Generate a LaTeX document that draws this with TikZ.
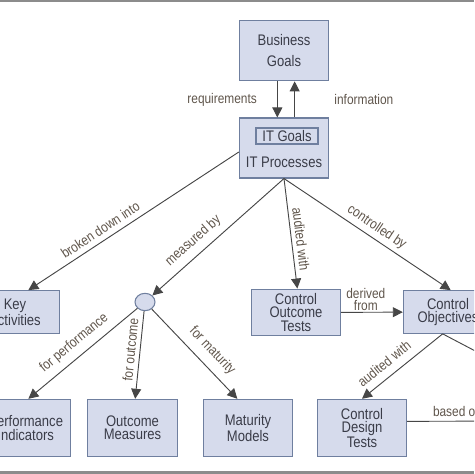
\documentclass[tikz,border=0pt]{standalone}
\usepackage{fontspec}
\usepackage{xcolor}
\usepackage{tikz}
\usetikzlibrary{arrows.meta, positioning, shapes.geometric}
\newfontfamily\diafont[FakeStretch=0.85]{Liberation Sans}
\newcommand{\cbfont}{\diafont\fontsize{11.5}{10}\selectfont}
\newcommand{\cblabfont}{\diafont\fontsize{10.5}{9}\selectfont}
\definecolor{boxfill}{RGB}{214,219,236}
\definecolor{boxline}{RGB}{111,127,159}
\definecolor{boxtext}{RGB}{58,60,72}
\definecolor{labtext}{RGB}{95,85,75}
\definecolor{linecol}{RGB}{70,70,70}
\definecolor{barcol}{RGB}{140,140,140}
\tikzset{
  box/.style={draw=boxline, fill=boxfill, line width=0.8pt, minimum width=67pt, minimum height=32pt, align=center, text=boxtext, font=\cbfont},
  lab/.style={text=labtext, font=\cblabfont, inner sep=3pt, align=center},
  conn/.style={draw=linecol, line width=0.7pt, -{Triangle[length=7.5pt,width=7.5pt]}}
}

\begin{document}
\begin{tikzpicture}[x=0.75pt,y=-0.75pt]
\useasboundingbox (0,0) rectangle (474,474);
\clip (0,0) rectangle (474,474);
\fill[barcol] (0,0) rectangle (474,2);
\fill[barcol] (0,471) rectangle (474,474);
\node[box, minimum height=45.5pt, font=\diafont\fontsize{11.5}{16}\selectfont] (biz) at (284,50.5) {Business\\Goals};
\node[box, minimum height=45pt] (itp) at (284,148) {};
\node[draw=boxline, line width=0.8pt, minimum width=46.5pt, minimum height=12pt, inner sep=0pt, text=boxtext, font=\cbfont] (itg) at (287,136) {IT Goals};
\node[text=boxtext, font=\cbfont] (itpt) at (284,162) {IT Processes};
\node[box] (keyact) at (15,312) {Key\\Activities};
\node[ellipse, draw=boxline, fill=boxfill, line width=0.8pt, minimum width=15pt, minimum height=13pt, inner sep=0pt] (hub) at (145,302) {};
\node[box] (cot) at (296,312.5) {Control\\Outcome\\Tests};
\node[box] (cobj) at (448,312) {Control\\Objectives};
\node[box, minimum height=43pt] (perf) at (25.7,428) {Performance\\Indicators};
\node[box, minimum height=43pt] (outm) at (132.5,428) {Outcome\\Measures};
\node[box, minimum height=43pt] (matm) at (248,428) {Maturity\\Models};
\node[box, minimum height=43pt] (cdt) at (362,428) {Control\\Design\\Tests};
\coordinate (cprac) at (540,385);
\coordinate (based) at (540,421);
\draw[conn] ([xshift=-5pt]biz.south) -- ([xshift=-5pt]itp.north) node[lab, midway, left=12pt] {requirements};
\draw[conn] ([xshift=8pt]itp.north) -- ([xshift=8pt]biz.south) node[lab, midway, right=26.5pt] {information};
\draw[conn] ([yshift=-3pt]itp.west) -- ([xshift=10pt]keyact.north) node[lab, sloped, above=1pt, pos=.63] {broken down into};
\draw[conn] (itp.south) -- (hub) node[lab, sloped, above=2pt, pos=.62] {measured by};
\draw[conn] (itp.south) -- ([xshift=1pt]cot.north) node[lab, sloped, above, pos=.56] {audited with};
\draw[conn] (itp.south) -- ([xshift=2pt]cobj.north) node[lab, sloped, above, pos=.52] {controlled by};
\draw[conn] (cot) -- (cobj) node[lab, above, pos=.4, inner sep=1pt] {derived\\from};
\draw[conn] (hub) -- ([xshift=2pt]perf.north) node[lab, sloped, above=2pt, pos=.5] {for performance};
\draw[conn] (hub) -- ([xshift=2pt]outm.north) node[lab, sloped, above, pos=.45] {for outcome};
\draw[conn] (hub) -- ([xshift=-8pt]matm.north) node[lab, sloped, above=3pt, pos=.58] {for maturity};
\draw[conn] ([xshift=-4pt]cobj.south) -- (cdt.north) node[lab, sloped, above=3pt, pos=.62] {audited with};
\draw[conn] ([xshift=-4pt]cobj.south) -- (cprac) node[lab, sloped, above, pos=.25, anchor=south west] {implemented with};
\draw[conn] ([yshift=5pt]cdt.east) -- (based) node[lab, pos=0, anchor=south west, xshift=16pt] {based on};
\end{tikzpicture}
\end{document}
